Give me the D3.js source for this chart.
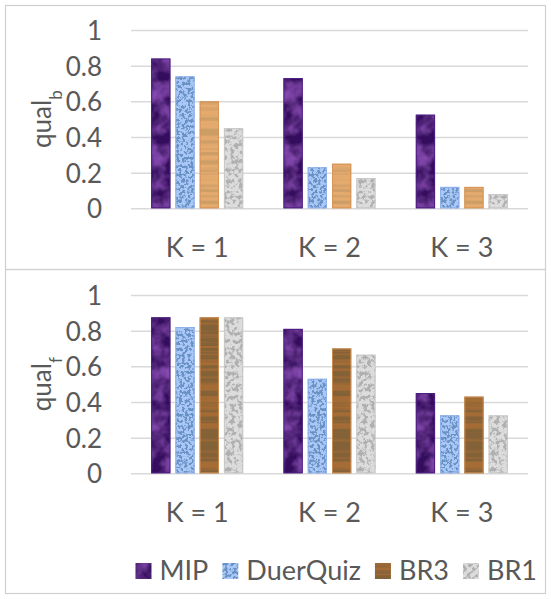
<!DOCTYPE html>
<html>
<head>
<meta charset="utf-8">
<script src="https://cdn.jsdelivr.net/npm/d3@7"></script>
<style>
  body { margin: 0; background: #fff; }
  text { font-family: Lato, "Open Sans", sans-serif; fill: #595959; }
</style>
</head>
<body>
<div id="chart"></div>
<script>
const categories = ['K = 1', 'K = 2', 'K = 3'];
const series = ['MIP', 'DuerQuiz', 'BR3', 'BR1'];
const qualB = {
  MIP: [0.84, 0.73, 0.525],
  DuerQuiz: [0.74, 0.23, 0.12],
  BR3: [0.60, 0.25, 0.12],
  BR1: [0.45, 0.17, 0.08]
};
const qualF = {
  MIP: [0.875, 0.81, 0.45],
  DuerQuiz: [0.82, 0.53, 0.325],
  BR3: [0.875, 0.70, 0.43],
  BR1: [0.875, 0.665, 0.325]
};
const yTicks = [0, 0.2, 0.4, 0.6, 0.8, 1];

const width = 551, height = 599;
const left = 131, right = 528;

const svg = d3.select('#chart')
  .append('svg')
  .attr('width', width)
  .attr('height', height);

const defs = svg.append('defs');

// textured fills built from svg noise filters
function texture(id, base, spot, freq, octaves, seed, table) {
  const c = d3.color(spot);
  const f = defs.append('filter')
    .attr('id', id)
    .attr('filterUnits', 'userSpaceOnUse')
    .attr('x', -700).attr('y', -700)
    .attr('width', 2000).attr('height', 2000);
  f.append('feTurbulence')
    .attr('type', 'fractalNoise')
    .attr('baseFrequency', freq)
    .attr('numOctaves', octaves)
    .attr('seed', seed)
    .attr('result', 'noise');
  f.append('feColorMatrix')
    .attr('in', 'noise')
    .attr('type', 'matrix')
    .attr('values', `0 0 0 0 ${c.r / 255} 0 0 0 0 ${c.g / 255} 0 0 0 0 ${c.b / 255} 1 0 0 0 0`)
    .attr('result', 'spots');
  f.append('feComponentTransfer')
    .attr('in', 'spots')
    .attr('result', 'spots2')
    .append('feFuncA')
    .attr('type', 'table')
    .attr('tableValues', table);
  f.append('feFlood').attr('flood-color', base).attr('result', 'bg');
  const m = f.append('feMerge').attr('result', 'tex');
  m.append('feMergeNode').attr('in', 'bg');
  m.append('feMergeNode').attr('in', 'spots2');
  f.append('feComposite')
    .attr('in', 'tex')
    .attr('in2', 'SourceGraphic')
    .attr('operator', 'in');
}

texture('tMIP', '#34095f', '#541896', '0.06', 3, 2, '0 0 0 0.2 0.5 0.7 0.8');
texture('tDuer', '#aac8f7', '#23488c', '0.35', 2, 5, '0 0 0 0 0 0 0 0 0 0 0.6 1 1 1 1 1 1 1 1 1');
texture('tBR3a', '#e4aa6e', '#9a5722', '0.003 0.24', 2, 7, '0 0 0 0 0 0 0 0 0 0.3 0.6 0.9 1 1 1 1 1 1 1 1');
texture('tBR3b', '#a56c35', '#3a1f0a', '0.003 0.24', 2, 9, '0 0 0 0 0 0 0 0 0.2 0.5 0.8 1 1 1 1 1 1 1 1 1');
texture('tBR1', '#dcdcdc', '#6e6e6e', '0.25', 3, 11, '0 0 0 0 0 0 0 0 0 0 0.4 0.8 1 1 1 1 1 1 1 1');

const strokes = { MIP: '#4e1f82', DuerQuiz: '#8fb0ea', BR3: '#d08a4a', BR1: '#c8c8c8' };

// panel frames
const panels = [
  { top: 5, bottom: 269, y0: 208.3, y1: 30, values: qualB, sub: 'b', br3: 'tBR3a', edge: '#d99455' },
  { top: 269, bottom: 593, y0: 473.3, y1: 295, values: qualF, sub: 'f', br3: 'tBR3b', edge: '#c98a4e' }
];

const x0 = d3.scaleBand().domain(categories).range([left, right]);
const x1 = d3.scaleBand().domain(series).range([0, x0.bandwidth()])
  .paddingInner(0.206).paddingOuter(0.83);

panels.forEach(p => {
  svg.append('rect')
    .attr('x', 5.5).attr('y', p.top + 0.5)
    .attr('width', 540).attr('height', p.bottom - p.top)
    .attr('fill', 'none')
    .attr('stroke', '#d0d0d0')
    .attr('stroke-width', 1.2);

  const y = d3.scaleLinear().domain([0, 1]).range([p.y0, p.y1]);

  const grid = svg.append('g')
    .attr('transform', `translate(${left},0)`)
    .call(d3.axisLeft(y).tickValues(yTicks).tickSize(-(right - left)).tickFormat(''));
  grid.select('.domain').remove();
  grid.selectAll('line').attr('stroke', '#d9d9d9').attr('stroke-width', 1.5);

  const yAxis = svg.append('g')
    .attr('transform', `translate(${left},0)`)
    .call(d3.axisLeft(y).tickValues(yTicks).tickSize(0).tickPadding(29).tickFormat(d => String(d)));
  yAxis.select('.domain').remove();
  yAxis.selectAll('text')
    .style('font-size', '26px')
    .attr('fill', '#595959')
    .attr('dy', '0.36em');

  const fills = { MIP: 'tMIP', DuerQuiz: 'tDuer', BR3: p.br3, BR1: 'tBR1' };
  const edges = Object.assign({}, strokes, { BR3: p.edge });

  const groups = svg.append('g').selectAll('g')
    .data(categories)
    .join('g')
    .attr('transform', d => `translate(${x0(d)},0)`);

  groups.selectAll('rect')
    .data((d, i) => series.map(s => ({ s, v: p.values[s][i] })))
    .join('rect')
    .attr('x', d => x1(d.s))
    .attr('y', d => y(d.v))
    .attr('width', x1.bandwidth())
    .attr('height', d => y(0) - y(d.v))
    .attr('fill', '#000')
    .attr('filter', d => `url(#${fills[d.s]})`);

  groups.selectAll('rect.edge')
    .data((d, i) => series.map(s => ({ s, v: p.values[s][i] })))
    .join('rect')
    .attr('class', 'edge')
    .attr('x', d => x1(d.s) + 0.5)
    .attr('y', d => y(d.v) + 0.5)
    .attr('width', x1.bandwidth() - 1)
    .attr('height', d => y(0) - y(d.v) - 1)
    .attr('fill', 'none')
    .attr('stroke', d => edges[d.s])
    .attr('stroke-width', 1);

  svg.append('g').selectAll('text')
    .data(categories)
    .join('text')
    .attr('x', d => x0(d) + x0.bandwidth() / 2)
    .attr('y', p.y0 + 48.5)
    .attr('text-anchor', 'middle')
    .style('font-size', '27px')
    .text(d => d);

  const label = svg.append('text')
    .attr('transform', `translate(51,${(p.y0 + p.y1) / 2}) rotate(-90)`)
    .attr('text-anchor', 'middle')
    .style('font-size', '26px');
  label.append('tspan').text('qual');
  label.append('tspan')
    .attr('baseline-shift', 'sub')
    .style('font-size', '17px')
    .text(p.sub);
});

// legend, right aligned under the lower panel
const legendFills = { MIP: 'tMIP', DuerQuiz: 'tDuer', BR3: 'tBR3b', BR1: 'tBR1' };
const legend = svg.append('g');
const items = legend.selectAll('g')
  .data(series)
  .join('g');
items.append('rect')
  .attr('width', 16).attr('height', 16)
  .attr('y', -17)
  .attr('fill', '#000')
  .attr('filter', d => `url(#${legendFills[d]})`);
items.append('text')
  .attr('x', 24)
  .style('font-size', '27px')
  .text(d => d);

let cx = 0;
items.each(function () {
  const w = 24 + d3.select(this).select('text').node().getComputedTextLength();
  d3.select(this).attr('transform', `translate(${cx},0)`);
  cx += w + 14;
});
const total = cx - 14;
legend.attr('transform', `translate(${537 - total},580)`);
</script>
</body>
</html>
